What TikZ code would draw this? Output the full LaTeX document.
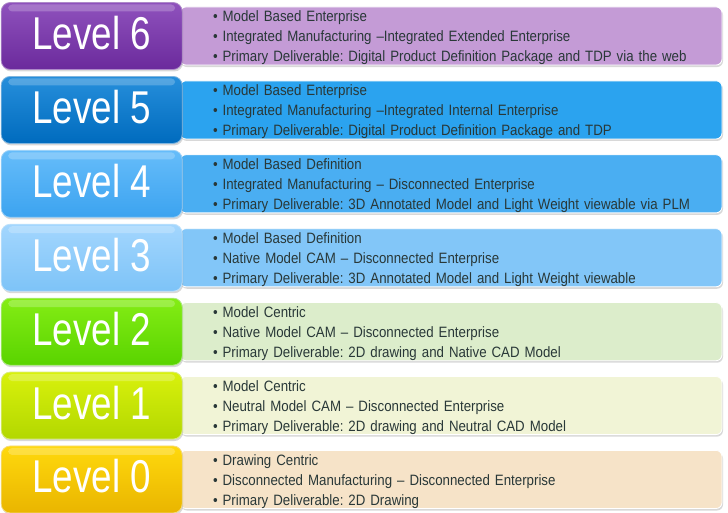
\documentclass[tikz,border=0pt]{standalone}
\usepackage{fontspec}
\setmainfont{Liberation Sans}
\newfontfamily\levelfont[FakeStretch=0.8]{Liberation Sans}
\newfontfamily\notefont[FakeStretch=0.885]{Liberation Sans}
\usetikzlibrary{positioning, shadows}
\definecolor{ink}{rgb}{0.16,0.22,0.22}
\definecolor{grape}{rgb}{0.420,0.165,0.612}
\definecolor{grapetop}{rgb}{0.560,0.320,0.740}
\definecolor{lilac}{rgb}{0.769,0.608,0.839}
\definecolor{navy}{rgb}{0.000,0.420,0.745}
\definecolor{navytop}{rgb}{0.150,0.560,0.860}
\definecolor{azure}{rgb}{0.169,0.639,0.937}
\definecolor{sky}{rgb}{0.235,0.640,0.940}
\definecolor{skytop}{rgb}{0.400,0.740,0.980}
\definecolor{skynote}{rgb}{0.290,0.682,0.949}
\definecolor{ice}{rgb}{0.490,0.765,0.970}
\definecolor{icetop}{rgb}{0.640,0.840,0.995}
\definecolor{icenote}{rgb}{0.510,0.776,0.973}
\definecolor{lime}{rgb}{0.350,0.830,0.000}
\definecolor{limetop}{rgb}{0.520,0.930,0.080}
\definecolor{limenote}{rgb}{0.863,0.929,0.796}
\definecolor{chart}{rgb}{0.700,0.845,0.000}
\definecolor{charttop}{rgb}{0.850,0.945,0.050}
\definecolor{chartnote}{rgb}{0.945,0.957,0.839}
\definecolor{gold}{rgb}{0.915,0.710,0.000}
\definecolor{goldtop}{rgb}{1.000,0.850,0.050}
\definecolor{goldnote}{rgb}{0.965,0.890,0.784}
\newcommand{\bul}[1]{\mbox{\rule{0pt}{15pt}\textbullet\ #1}}

\begin{document}
\frenchspacing
\begin{tikzpicture}[
  level/.style={
    rectangle,
    rounded corners=9pt,
    minimum width=181pt,
    minimum height=67pt,
    inner sep=0pt,
    text height=33pt,
    text depth=6pt,
    line width=0.8pt,
    text=white,
    font=\levelfont\fontsize{46}{46}\selectfont,
    drop shadow={shadow xshift=1pt, shadow yshift=-2pt, opacity=0.3},
    path picture={
      \fill[white, opacity=0.22, rounded corners=4pt]
        ([xshift=7pt, yshift=-2pt]path picture bounding box.north west)
        rectangle ([xshift=-7pt, yshift=-9pt]path picture bounding box.north east);
    },
  },
  note/.style={
    rectangle,
    rounded corners=6pt,
    minimum width=542pt,
    minimum height=58pt,
    inner xsep=33pt,
    inner ysep=0pt,
    text width=476pt,
    align=left,
    draw=white,
    line width=0.8pt,
    text=ink,
    font=\notefont\fontsize{15}{20}\selectfont,
    drop shadow={shadow xshift=1pt, shadow yshift=-2pt, opacity=0.3},
  }
]
\path[use as bounding box, fill=white] (0,0) rectangle (728pt,-513pt);

% descriptions
\node[note, fill=lilac] (ds6) at (451pt,-36pt) {
  \bul{Model Based Enterprise}\\
  \bul{Integrated Manufacturing –Integrated Extended Enterprise}\\
  \bul{Primary Deliverable: Digital Product Definition Package and TDP via the web}
};
\node[note, fill=azure, below=15pt of ds6] (ds5) {
  \bul{Model Based Enterprise}\\
  \bul{Integrated Manufacturing –Integrated Internal Enterprise}\\
  \bul{Primary Deliverable: Digital Product Definition Package and TDP}
};
\node[note, fill=skynote, below=15pt of ds5] (ds4) {
  \bul{Model Based Definition}\\
  \bul{Integrated Manufacturing – Disconnected Enterprise}\\
  \bul{Primary Deliverable: 3D Annotated Model and Light Weight viewable via PLM}
};
\node[note, fill=icenote, below=15pt of ds4] (ds3) {
  \bul{Model Based Definition}\\
  \bul{Native Model CAM – Disconnected Enterprise}\\
  \bul{Primary Deliverable: 3D Annotated Model and Light Weight viewable}
};
\node[note, fill=limenote, below=15pt of ds3] (ds2) {
  \bul{Model Centric}\\
  \bul{Native Model CAM – Disconnected Enterprise}\\
  \bul{Primary Deliverable: 2D drawing and Native CAD Model}
};
\node[note, fill=chartnote, below=15pt of ds2] (ds1) {
  \bul{Model Centric}\\
  \bul{Neutral Model CAM – Disconnected Enterprise}\\
  \bul{Primary Deliverable: 2D drawing and Neutral CAD Model}
};
\node[note, fill=goldnote, below=15pt of ds1] (ds0) {
  \bul{Drawing Centric}\\
  \bul{Disconnected Manufacturing – Disconnected Enterprise}\\
  \bul{Primary Deliverable: 2D Drawing}
};

% levels
\node[level, top color=grapetop, bottom color=grape, draw=grape!55!white, left=-3pt of ds6] (lv6) {Level 6};
\node[level, top color=navytop, bottom color=navy, draw=navy!50!white, left=-3pt of ds5] (lv5) {Level 5};
\node[level, top color=skytop, bottom color=sky, draw=sky!50!white, left=-3pt of ds4] (lv4) {Level 4};
\node[level, top color=icetop, bottom color=ice, draw=ice!50!white, left=-3pt of ds3] (lv3) {Level 3};
\node[level, top color=limetop, bottom color=lime, draw=lime!50!white, left=-3pt of ds2] (lv2) {Level 2};
\node[level, top color=charttop, bottom color=chart, draw=chart!50!white, left=-3pt of ds1] (lv1) {Level 1};
\node[level, top color=goldtop, bottom color=gold, draw=gold!50!white, left=-3pt of ds0] (lv0) {Level 0};

\end{tikzpicture}
\end{document}
